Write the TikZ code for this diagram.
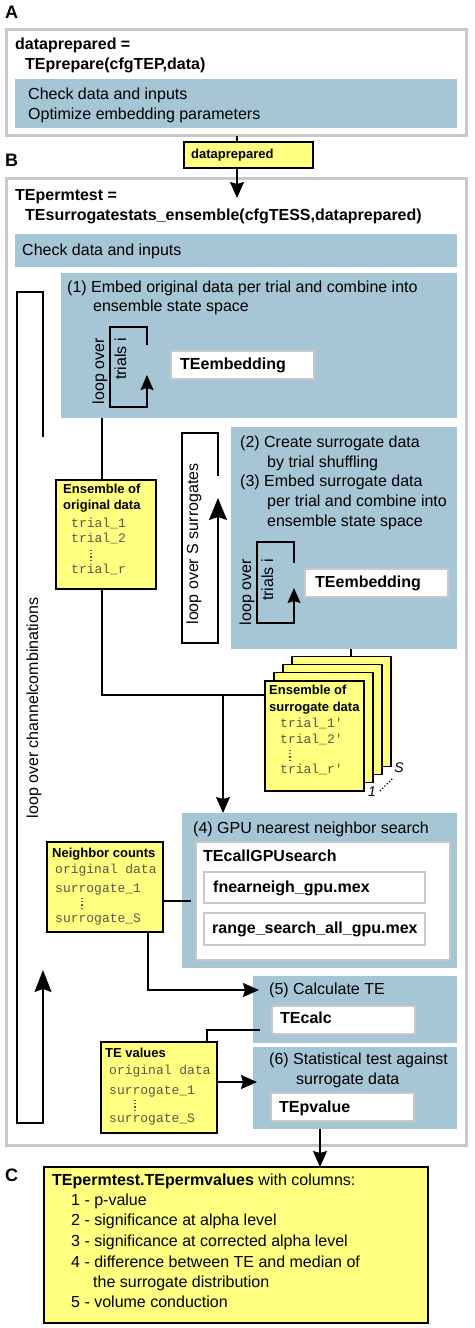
\documentclass[tikz,border=0pt]{standalone}
\usepackage{fontspec}
\setmainfont{Liberation Sans}
\setmonofont{Liberation Mono}
\usetikzlibrary{arrows.meta,calc}
\definecolor{stepblue}{RGB}{166,197,213}
\definecolor{noteyellow}{RGB}{255,255,128}
\definecolor{framegray}{RGB}{200,200,200}
\definecolor{listgray}{RGB}{90,90,75}
\tikzset{
  panel/.style={draw=framegray,line width=3pt,anchor=north west,inner sep=0pt,outer sep=0pt},
  stepbox/.style={fill=stepblue,anchor=north west,inner sep=0pt,outer sep=0pt},
  funcbox/.style={fill=white,draw=framegray,line width=1.2pt,anchor=north west,inner sep=0pt,outer sep=0pt},
  notebox/.style={fill=noteyellow,draw=black,line width=1.2pt,anchor=north west,inner sep=0pt,outer sep=0pt},
  txt/.style={anchor=base west,inner sep=0pt},
  fn/.style={txt,font=\fontsize{16}{20}\selectfont\bfseries},
  notetitle/.style={txt,font=\fontsize{13}{17}\selectfont\bfseries},
  listentry/.style={txt,font=\fontsize{13}{17}\selectfont\ttfamily,text=listgray},
  panellabel/.style={txt,font=\fontsize{18}{22}\selectfont\bfseries},
  looplabel/.style={inner sep=0pt,rotate=90},
  loopline/.style={line width=1.5pt},
  link/.style={line width=1.2pt},
  listdots/.style={dotted,line width=1.2pt,listgray}
}
\begin{document}
\begin{tikzpicture}[x=1pt,y=-1pt,font=\fontsize{16}{20}\selectfont,>={Stealth[length=16pt,width=14pt,inset=2pt]}]
  \useasboundingbox (0,0) rectangle (474,1328);
  % A: preparation
  \node[panellabel] (labA) at (5,18) {A};
  \node[panel,minimum width=460pt,minimum height=106pt] (prep) at (6.5,29.5) {};
  \node[fn] (prepout) at (15,49) {dataprepared =};
  \node[fn] (prepcall) at (25,69) {TEprepare(cfgTEP,data)};
  \node[stepbox,minimum width=442pt,minimum height=49pt] (prepsteps) at (15,79) {};
  \node[txt] (prepcheck) at (28,99) {Check data and inputs};
  \node[txt] (prepopt) at (28,119) {Optimize embedding parameters};
  % B: permutation test
  \node[panellabel] (labB) at (5,166) {B};
  \node[panel,minimum width=460pt,minimum height=967pt] (perm) at (6.5,178.5) {};
  \coordinate (permin) at (237,198);
  \draw[link,->] (prep.south -| permin) -- (permin);
  \node[notebox,minimum width=129pt,minimum height=26pt] (dp) at (184,142) {};
  \node[notetitle] (dptext) at (191,158) {dataprepared};
  \node[fn] (permout) at (15,200) {TEpermtest =};
  \node[fn] (permcall) at (25,220) {TEsurrogatestats\_ensemble(cfgTESS,dataprepared)};
  \node[stepbox,minimum width=442pt,minimum height=33pt] (check) at (15,234) {};
  \node[txt] (checktext) at (22,255) {Check data and inputs};
  % loop over channel combinations
  \draw[loopline,->,>={Stealth[length=22pt,width=17pt,inset=3pt]}] (43,437) -- (43,292) -- (17,292) -- (17,1123) -- (43,1123) -- (43,970);
  \node[looplabel,anchor=base] (chanloop) at (38,708) {loop over channelcombinations};
  % (1)
  \node[stepbox,minimum width=396pt,minimum height=145pt] (embo) at (61,273) {};
  \node[txt] (embotext) at (67,292) {(1) Embed original data per trial and combine into};
  \node[txt] (embotextb) at (93,311) {ensemble state space};
  \node[funcbox,minimum width=143pt,minimum height=28pt] (embofn) at (171,351) {};
  \node[fn] (embofntext) at (180,369) {TEembedding};
  \draw[loopline,->,>={Stealth[length=15pt,width=13pt,inset=2pt]}] (147,345) -- (147,327) -- (110,327) -- (110,407) -- (147,407) -- (147,375);
  \node[looplabel,anchor=base east] (trialoa) at (104,338) {loop over};
  \node[looplabel,anchor=base east] (trialob) at (126,338) {trials i};
  % (2) and (3)
  \node[stepbox,minimum width=226pt,minimum height=222pt] (embs) at (231,427) {};
  \node[txt] (embstexta) at (240,447) {(2) Create surrogate data};
  \node[txt] (embstextb) at (267,467) {by trial shuffling};
  \node[txt] (embstextc) at (240,486) {(3) Embed surrogate data};
  \node[txt] (embstextd) at (267,506) {per trial and combine into};
  \node[txt] (embstexte) at (267,526) {ensemble state space};
  \node[funcbox,minimum width=143pt,minimum height=28pt] (embsfn) at (305,569) {};
  \node[fn] (embsfntext) at (315,587) {TEembedding};
  \draw[loopline,->,>={Stealth[length=15pt,width=13pt,inset=2pt]}] (294,563) -- (294,542) -- (257,542) -- (257,623) -- (294,623) -- (294,588);
  \node[looplabel,anchor=base east] (trialsa) at (251,559) {loop over};
  \node[looplabel,anchor=base east] (trialsb) at (273,559) {trials i};
  % loop over surrogates
  \draw[loopline,->,>={Stealth[length=22pt,width=18pt,inset=3pt]}] (218,476) -- (218,433) -- (182,433) -- (182,643) -- (218,643) -- (218,498);
  \node[looplabel,anchor=base] (surrloop) at (198,544) {loop over S surrogates};
  % ensemble of original data
  \node[notebox,minimum width=100pt,minimum height=109pt] (enso) at (56,480) {};
  \node[notetitle] (ensotitle) at (63,493) {Ensemble of};
  \node[notetitle] (ensotitleb) at (63,509) {original data};
  \node[listentry] (ensoa) at (71,527) {trial\_1};
  \node[listentry] (ensob) at (71,542) {trial\_2};
  \draw[listdots] (91,550) -- (91,561);
  \node[listentry] (ensor) at (71,573) {trial\_r};
  % ensemble of surrogate data
  \foreach \k in {3,2,1,0}
    \node[notebox,minimum width=99pt,minimum height=110pt] (ens\k) at ({265+9*\k},{681-8.3*\k}) {};
  \node[notetitle] (enstitle) at (269,694) {Ensemble of};
  \node[notetitle] (enstitleb) at (269,711) {surrogate data};
  \node[listentry] (ensa) at (280,727) {trial\_1'};
  \node[listentry] (ensb) at (280,743) {trial\_2'};
  \draw[listdots] (290,750) -- (290,762);
  \node[listentry] (ensr) at (280,773) {trial\_r'};
  \node[inner sep=0pt,font=\fontsize{14}{16}\selectfont\itshape] (stackfirst) at (372,792) {1};
  \node[inner sep=0pt,font=\fontsize{14}{16}\selectfont\itshape] (stacklast) at (399,768) {S};
  \draw[dotted,line width=1.2pt] (380,791) -- (393,778);
  % data flow to (4)
  \coordinate (merge) at (102,695);
  \coordinate (split) at (223,695);
  \coordinate (surrdrop) at (351,649);
  \draw[link] (embo.south -| merge) -- (enso.north -| merge);
  \draw[link] (enso.south -| merge) -- (merge) -- (ens0.west |- merge);
  \draw[link] (embs.south -| surrdrop) -- (ens3.north -| surrdrop);
  % (4)
  \node[stepbox,minimum width=275pt,minimum height=155pt] (gpu) at (182,813) {};
  \draw[link,->] (split) -- (split |- gpu.north);
  \node[txt] (gputext) at (193,833) {(4) GPU nearest neighbor search};
  \node[funcbox,minimum width=254pt,minimum height=118pt] (gpucall) at (196,842) {};
  \node[fn] (gpucalltext) at (203,861) {TEcallGPUsearch};
  \node[funcbox,minimum width=221pt,minimum height=31pt] (knn) at (204,872) {};
  \node[fn] (knntext) at (213,892) {fnearneigh\_gpu.mex};
  \node[funcbox,minimum width=221pt,minimum height=32pt] (range) at (204,913) {};
  \node[fn] (rangetext) at (212,933) {range\_search\_all\_gpu.mex};
  % neighbor counts
  \node[notebox,minimum width=116pt,minimum height=90pt] (nbr) at (47,842) {};
  \node[notetitle] (nbrtitle) at (52,857) {Neighbor counts};
  \node[listentry] (nbra) at (55,873) {original data};
  \node[listentry] (nbrb) at (55,892) {surrogate\_1};
  \draw[listdots] (82,898) -- (82,909);
  \node[listentry] (nbrs) at (55,922) {surrogate\_S};
  \coordinate (nbrin) at (191,901);
  \draw[link] (nbr.east |- nbrin) -- (nbrin);
  % (5)
  \node[stepbox,minimum width=204pt,minimum height=67pt] (calc) at (253,976) {};
  \node[txt] (calctext) at (269,994) {(5) Calculate TE};
  \node[funcbox,minimum width=143pt,minimum height=28pt] (calcfn) at (272,1006) {};
  \node[fn] (calcfntext) at (280,1023) {TEcalc};
  \coordinate (nbrdrop) at (148,990);
  \draw[link,->] (nbr.south -| nbrdrop) -- (nbrdrop) -- ($(calc.west |- nbrdrop)+(6,0)$);
  % TE values
  \node[notebox,minimum width=116pt,minimum height=91pt] (tev) at (101,1042) {};
  \node[notetitle] (tevtitle) at (105,1057) {TE values};
  \node[listentry] (teva) at (109,1074) {original data};
  \node[listentry] (tevb) at (109,1094) {surrogate\_1};
  \draw[listdots] (135,1100) -- (135,1111);
  \node[listentry] (tevs) at (109,1122) {surrogate\_S};
  \coordinate (tevup) at (207,1030);
  \draw[link] (tev.north -| tevup) -- (tevup) -- ($(calc.west |- tevup)+(7,0)$);
  % (6)
  \node[stepbox,minimum width=204pt,minimum height=82pt] (stat) at (253,1047) {};
  \node[txt] (stattext) at (269,1064) {(6) Statistical test against};
  \node[txt] (stattextb) at (296,1084) {surrogate data};
  \node[funcbox,minimum width=143pt,minimum height=28pt] (statfn) at (271,1093) {};
  \node[fn] (statfntext) at (279,1112) {TEpvalue};
  \coordinate (tevout) at (217,1082);
  \draw[link,->] (tev.east |- tevout) -- ($(stat.west |- tevout)+(4,0)$);
  % C: output
  \node[panellabel] (labC) at (5,1181) {C};
  \node[notebox,minimum width=384pt,minimum height=156pt] (res) at (44,1167) {};
  \coordinate (statout) at (320,1129);
  \draw[link,->] (stat.south -| statout) -- (res.north -| statout);
  \node[txt] (restitle) at (52,1185) {\textbf{TEpermtest.TEpermvalues} with columns:};
  \node[txt] (resa) at (71,1205) {1 - p-value};
  \node[txt] (resb) at (71,1225) {2 - significance at alpha level};
  \node[txt] (resc) at (71,1246) {3 - significance at corrected alpha level};
  \node[txt] (resd) at (71,1267) {4 - difference between TE and median of};
  \node[txt] (resdb) at (93,1287) {the surrogate distribution};
  \node[txt] (rese) at (71,1307) {5 - volume conduction};
\end{tikzpicture}
\end{document}
